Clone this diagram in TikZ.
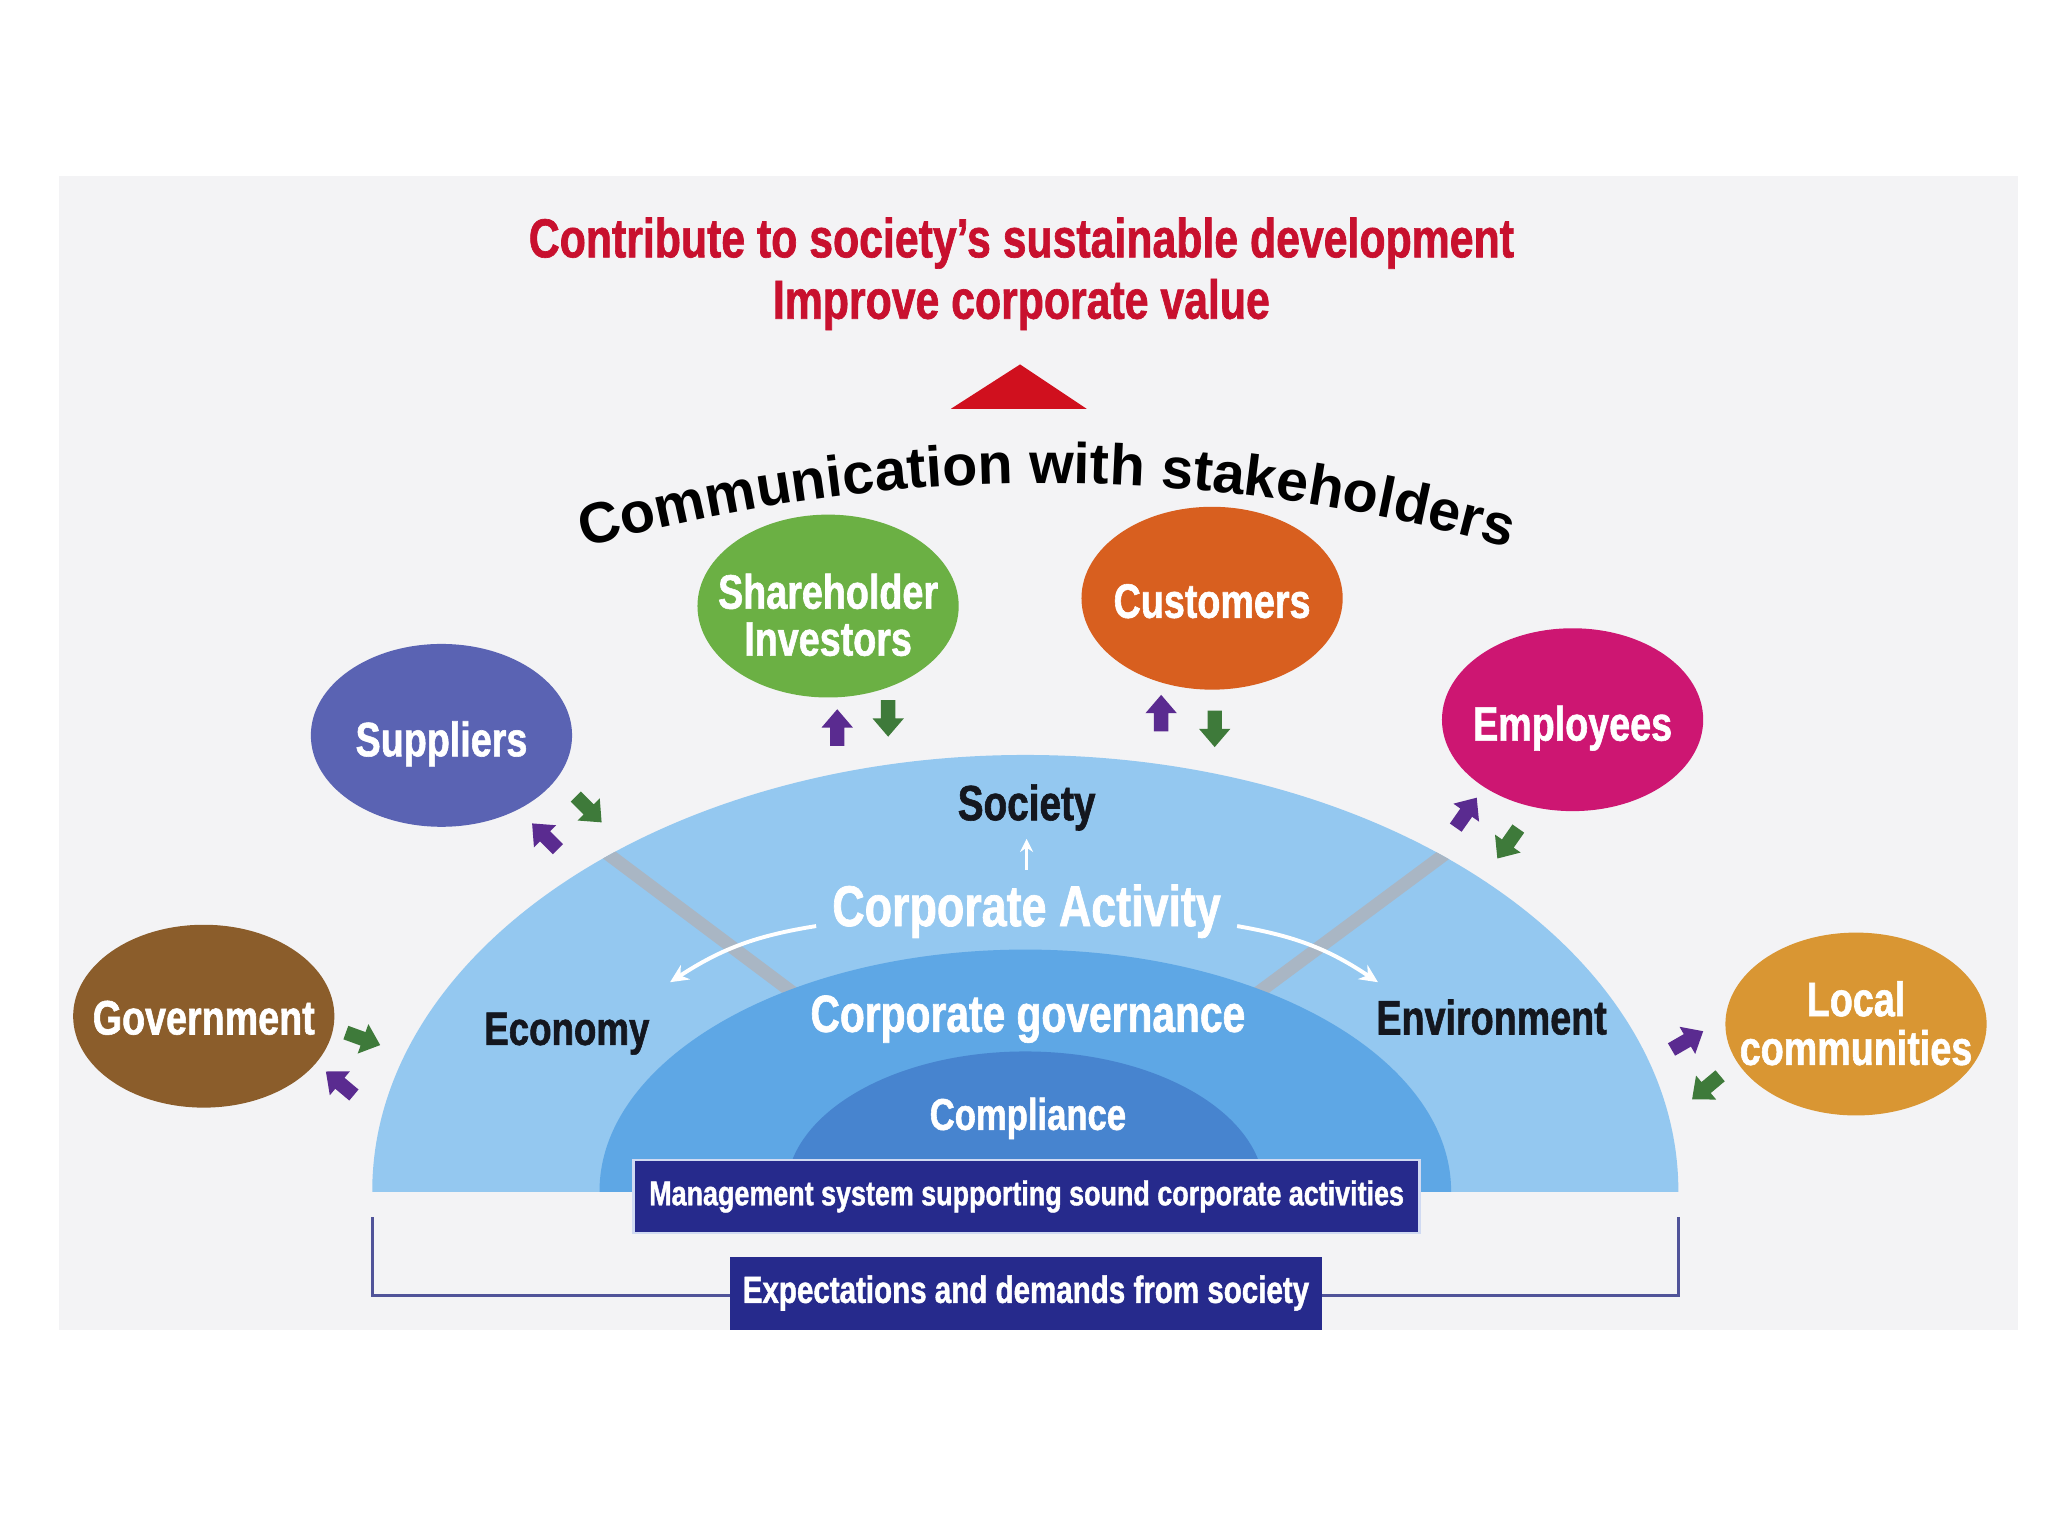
\documentclass[tikz,border=0pt]{standalone}
\usepackage{fontspec}
\newfontfamily\cf{Liberation Sans}[FakeStretch=0.78, FakeBold=1.2]
\newfontfamily\nf{Liberation Sans}
\usetikzlibrary{shapes.geometric, decorations.text, arrows.meta}
\pgfdeclarelayer{bg}
\pgfsetlayers{bg,main}
\definecolor{panel}{HTML}{F3F3F5}
\definecolor{titlered}{HTML}{C8102E}
\definecolor{trired}{HTML}{D0101E}
\definecolor{domeA}{HTML}{94C8F0}
\definecolor{domeB}{HTML}{5EA7E5}
\definecolor{domeC}{HTML}{4784CF}
\definecolor{band}{HTML}{A9B6C4}
\definecolor{navy}{HTML}{262A8C}
\definecolor{mgborder}{HTML}{D0DAF2}
\definecolor{bracketc}{HTML}{505399}
\definecolor{cSup}{HTML}{5A63B3}
\definecolor{cSha}{HTML}{6BB044}
\definecolor{cCus}{HTML}{D85F1F}
\definecolor{cEmp}{HTML}{CD1672}
\definecolor{cGov}{HTML}{8B5D2B}
\definecolor{cLoc}{HTML}{D99633}
\definecolor{aPur}{HTML}{5A2B90}
\definecolor{aGrn}{HTML}{3E7A3A}
\definecolor{ink}{HTML}{14171F}
\newcommand\curvefont{\nf\bfseries\fontsize{22pt}{22pt}\selectfont}
\newcommand\fsz[1]{\cf\bfseries\fontsize{#1}{#1}\selectfont}
\newcommand\ctext[2]{\makebox[0pt]{\raisebox{#1}[0pt][0pt]{#2}}}
\newcommand\twolines[2]{\begin{tabular}[t]{@{}c@{}}#1\\#2\end{tabular}}
\tikzset{
  holder/.style={ellipse, minimum width=100pt, minimum height=70pt, inner sep=0pt,
    text=white, font=\cf\bfseries\fontsize{18.5pt}{17.5pt}\selectfont},
  lbl/.style={inner sep=0pt, anchor=base},
  navybox/.style={fill=navy, text=white, inner sep=0pt},
  parrow/.pic={\fill[aPur] (-13,-5.5) -- (1,-5.5) -- (1,-12) -- (15,0) -- (1,12) -- (1,5.5) -- (-13,5.5) -- cycle;},
  garrow/.pic={\fill[aGrn] (-13,-5.5) -- (1,-5.5) -- (1,-12) -- (15,0) -- (1,12) -- (1,5.5) -- (-13,5.5) -- cycle;},
  whitearrow/.style={white, line width=1.5pt, -{Stealth[length=7pt,width=6.5pt]}},
}
\begin{document}
\begin{tikzpicture}[x=0.5pt, y=-0.5pt]
\useasboundingbox (0,0) rectangle (1568,1175);
\begin{pgfonlayer}{bg}
  \fill[white] (0,0) rectangle (1568,1175);
  \fill[panel] (45,135) rectangle (1545,1018);
\end{pgfonlayer}

% title
\node[lbl, text=titlered, font=\fsz{21pt}] (t1) at (782,197) {Contribute to society’s sustainable development};
\node[lbl, text=titlered, font=\fsz{21pt}] (t2) at (782,244) {Improve corporate value};
\fill[trired] (781,279) -- (832,313) -- (728,313) -- cycle;

% curved text
\coordinate (cs) at (443,420.4);
\path[decorate, decoration={text along path, text align=center,
   text={|\curvefont|Communication with stakeholders}}]
   (cs) arc[start angle=106, end angle=74, radius=650pt];

% domes
\begin{scope}
  \clip (0,0) rectangle (1568,912);
  \fill[domeA] (785,912) ellipse [x radius=250pt, y radius=167pt];
  \clip (785,912) ellipse [x radius=250pt, y radius=167pt];
  \draw[band, line width=5pt] (435,631) -- (631,778);
  \draw[band, line width=5pt] (1133,634) -- (939,778);
  \fill[domeB] (785,912) ellipse [x radius=163pt, y radius=92.5pt];
  \fill[domeC] (785,912) ellipse [x radius=91.5pt, y radius=53.5pt];
\end{scope}

% stakeholders
\node[holder, fill=cSup] (sup) at (338,563) {\ctext{-8pt}{Suppliers}};
\node[holder, fill=cSha] (sha) at (634,464) {\ctext{-1pt}{\twolines{Shareholder}{Investors}}};
\node[holder, fill=cCus] (cus) at (928,458) {\ctext{-7.5pt}{Customers}};
\node[holder, fill=cEmp] (emp) at (1204,551) {\ctext{-8pt}{Employees}};
\node[holder, fill=cGov] (gov) at (156,778) {\ctext{-7pt}{Government}};
\node[holder, fill=cLoc] (loc) at (1421,784) {\ctext{3pt}{\twolines{Local}{communities}}};

% block arrows
\pic[rotate=135] at (418,641) {parrow};
\pic[rotate=-45] at (450,619) {garrow};
\pic[rotate=90] at (641,558) {parrow};
\pic[rotate=-90] at (680,549) {garrow};
\pic[rotate=90] at (889,547) {parrow};
\pic[rotate=-90] at (930,557) {garrow};
\pic[rotate=55] at (1122,623) {parrow};
\pic[rotate=235] at (1155,645) {garrow};
\pic[rotate=-20] at (277,795) {garrow};
\pic[rotate=140] at (261,830) {parrow};
\pic[rotate=30] at (1291,797) {parrow};
\pic[rotate=220] at (1307,832) {garrow};

% inner texts
\node[lbl, text=ink, font=\fsz{19pt}] (soc) at (786,628) {Society};
\node[lbl, text=white, font=\fsz{22pt}] (ca) at (786,709) {Corporate Activity};
\node[lbl, text=ink, font=\fsz{18pt}] (eco) at (434,800) {Economy};
\node[lbl, text=ink, font=\fsz{18.5pt}] (env) at (1142,792) {Environment};
\node[lbl, text=white, font=\fsz{20pt}] (cg) at (787,790) {Corporate governance};
\node[lbl, text=white, font=\fsz{17pt}] (comp) at (787,865) {Compliance};

\coordinate (ecoT) at (513,752);
\coordinate (envT) at (1055,752);
\draw[white, line width=1pt, -{Stealth[length=5pt,width=5pt]}, shorten <=5.5pt, shorten >=3pt] (ca.north) -- (soc.south);
\draw[whitearrow] ([xshift=-6pt]ca.base west) to[bend right=12] (ecoT);
\draw[whitearrow] ([xshift=6pt]ca.base east) to[bend left=12] (envT);

% boxes
\node[navybox, draw=mgborder, line width=1pt, minimum width=301pt, minimum height=28pt, font=\fsz{13.2pt}] (mgmt) at (786,916) {Management system supporting sound corporate activities};
\node[navybox, minimum width=226.5pt, minimum height=28pt, font=\fsz{14.5pt}] (exp) at (785.5,990) {Expectations and demands from society};
\coordinate (bl) at (285,932);
\coordinate (br) at (1285,932);
\begin{pgfonlayer}{bg}
  \draw[bracketc, line width=1.2pt] (bl) |- ([yshift=-1pt]exp.center) -| (br);
\end{pgfonlayer}
\end{tikzpicture}
\end{document}
